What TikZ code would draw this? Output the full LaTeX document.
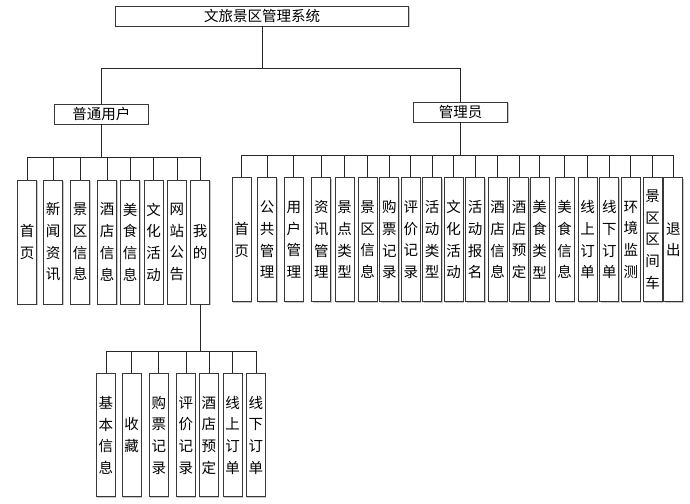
\documentclass[tikz,border=0pt]{standalone}
\usepackage{fontspec}
\newfontfamily\cjk{Noto Sans CJK SC}
\usetikzlibrary{shadows}
\tikzset{
  boxbase/.style={draw=black!78, line width=0.9pt, fill=white, inner sep=0pt,
    font=\cjk\fontsize{14.5}{21.7}\selectfont,
    drop shadow={shadow xshift=1pt, shadow yshift=-1pt, fill=black!22, opacity=1}},
  hbox/.style={boxbase, minimum width=94pt, minimum height=20pt},
  vbox/.style={boxbase, minimum width=19pt, text width=19pt, align=center, minimum height=124pt},
  conn/.style={draw=black!85, line width=0.8pt}
}
\begin{document}
\begin{tikzpicture}[x=1pt,y=-1pt]
\useasboundingbox (0,0) rectangle (690,503);
% top level
\node[hbox, minimum width=293pt] (root) at (262.2,16) {文旅景区管理系统};
\node[hbox] (user) at (101.3,114) {普通用户};
\node[hbox] (admin) at (460.5,112.3) {管理员};
\coordinate (b0) at (0,68);
\coordinate (b1) at (0,157);
\coordinate (b2) at (0,155);
\coordinate (b3) at (0,351);
\draw[conn] (root.south) -- (root.south |- b0) -| (user.north);
\draw[conn] (root.south |- b0) -| (admin.north);
% user children
\node[vbox] (u1) at (27.2,242) {首\\页};
\node[vbox] (u2) at (53,242) {新\\闻\\资\\讯};
\node[vbox] (u3) at (80.2,242) {景\\区\\信\\息};
\node[vbox] (u4) at (107,242) {酒\\店\\信\\息};
\node[vbox] (u5) at (130.2,242) {美\\食\\信\\息};
\node[vbox] (u6) at (153.5,242) {文\\化\\活\\动};
\node[vbox] (u7) at (176.9,242) {网\\站\\公\\告};
\node[vbox] (u8) at (200.2,242) {我\\的};
\foreach \c in {u1,u2,u3,u4,u5,u6,u7,u8}
  \draw[conn] (user.south) -- (user.south |- b1) -| (\c.north);
% admin children
\node[vbox] (a1) at (241.7,239.7) {首\\页};
\node[vbox] (a2) at (267,239.7) {公\\共\\管\\理};
\node[vbox] (a3) at (293.8,239.7) {用\\户\\管\\理};
\node[vbox] (a4) at (321.3,239.7) {资\\讯\\管\\理};
\node[vbox] (a5) at (344.5,239.7) {景\\点\\类\\型};
\node[vbox] (a6) at (367.7,239.7) {景\\区\\信\\息};
\node[vbox] (a7) at (389.3,239.7) {购\\票\\记\\录};
\node[vbox] (a8) at (410.8,239.7) {评\\价\\记\\录};
\node[vbox] (a9) at (432.2,239.7) {活\\动\\类\\型};
\node[vbox] (a10) at (453.5,239.7) {文\\化\\活\\动};
\node[vbox] (a11) at (475,239.7) {活\\动\\报\\名};
\node[vbox] (a12) at (497.7,239.7) {酒\\店\\信\\息};
\node[vbox] (a13) at (519,239.7) {酒\\店\\预\\定};
\node[vbox] (a14) at (539.7,239.7) {美\\食\\类\\型};
\node[vbox] (a15) at (564.7,239.7) {美\\食\\信\\息};
\node[vbox] (a16) at (587.7,239.7) {线\\上\\订\\单};
\node[vbox] (a17) at (609.3,239.7) {线\\下\\订\\单};
\node[vbox] (a18) at (630.8,239.7) {环\\境\\监\\测};
\node[vbox] (a19) at (652.5,239.7) {景\\区\\区\\间\\车};
\node[vbox] (a20) at (673.3,239.7) {退\\出};
\foreach \c in {a1,a2,a3,a4,a5,a6,a7,a8,a9,a10,a11,a12,a13,a14,a15,a16,a17,a18,a19,a20}
  \draw[conn] (admin.south) -- (admin.south |- b2) -| (\c.north);
% "我的" children
\node[vbox, minimum height=123pt] (m1) at (105.9,435.3) {基\\本\\信\\息};
\node[vbox, minimum height=123pt] (m2) at (131.7,435.3) {收\\藏};
\node[vbox, minimum height=123pt] (m3) at (158.8,435.3) {购\\票\\记\\录};
\node[vbox, minimum height=123pt] (m4) at (185.9,435.3) {评\\价\\记\\录};
\node[vbox, minimum height=123pt] (m5) at (208.9,435.3) {酒\\店\\预\\定};
\node[vbox, minimum height=123pt] (m6) at (232.5,435.3) {线\\上\\订\\单};
\node[vbox, minimum height=123pt] (m7) at (255.9,435.3) {线\\下\\订\\单};
\foreach \c in {m1,m2,m3,m4,m5,m6,m7}
  \draw[conn] (u8.south) -- (u8.south |- b3) -| (\c.north);
\end{tikzpicture}
\end{document}
